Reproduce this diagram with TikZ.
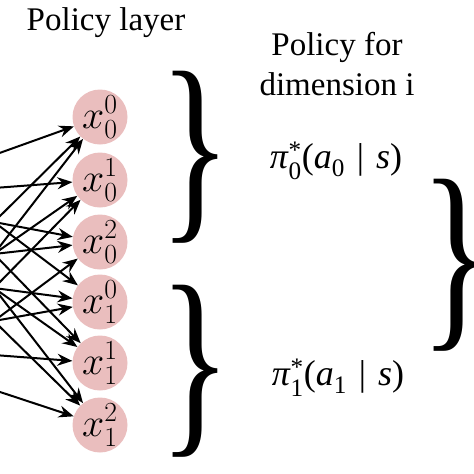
\documentclass[tikz,border=0pt]{standalone}
\usepackage{amsmath}
\usepackage{graphicx}
\usepackage{fontspec}
\setmainfont{Liberation Serif}
\usetikzlibrary{arrows.meta}
\definecolor{unitpink}{RGB}{234,190,190}
\newcommand{\unitlbl}[2]{\scalebox{1.6}{$x_{#1}^{#2}$}}
\begin{document}
\begin{tikzpicture}[x=1pt, y=-1pt,
        unit/.style={circle, fill=unitpink, minimum size=54pt, inner sep=0pt, font=\fontsize{25}{30}\selectfont},
        conn/.style={-{Stealth[length=15pt, width=12pt, inset=5pt]}, line width=2pt},
        bigbrace/.style={inner sep=0pt, xscale=0.72, font=\fontsize{208}{208}\selectfont},
        label/.style={anchor=base, font=\fontsize{33}{40}\selectfont},
        policy/.style={anchor=base, font=\fontsize{36}{42}\selectfont}]
        \useasboundingbox (0,0) rectangle (474,474);
        \clip (0,0) rectangle (474,474);

        \node[unit] (x00) at (100, 117) {\unitlbl{0}{0}};
        \node[unit] (x01) at (100, 180) {\unitlbl{0}{1}};
        \node[unit] (x02) at (100, 242) {\unitlbl{0}{2}};
        \node[unit] (x10) at (100, 302) {\unitlbl{1}{0}};
        \node[unit] (x11) at (100, 363) {\unitlbl{1}{1}};
        \node[unit] (x12) at (100, 425) {\unitlbl{1}{2}};

        \coordinate (h1) at (-6, 155);
        \coordinate (h2) at (-6, 188);
        \coordinate (h3) at (-6, 222);
        \coordinate (h4) at (-6, 254);
        \coordinate (h5) at (-6, 288);
        \coordinate (h6) at (-6, 321);
        \coordinate (h7) at (-6, 355);
        \coordinate (h8) at (-6, 390);

        \draw[conn] (h1) -- (x00);
        \draw[conn] (h3) -- (x00);
        \draw[conn] (h4) -- (x00);
        \draw[conn] (h2) -- (x01);
        \draw[conn] (h4) -- (x01);
        \draw[conn] (h5) -- (x01);
        \draw[conn] (h3) -- (x02);
        \draw[conn] (h4) -- (x02);
        \draw[conn] (h6) -- (x02);
        \draw[conn] (h3) -- (x10);
        \draw[conn] (h5) -- (x10);
        \draw[conn] (h6) -- (x10);
        \draw[conn] (h4) -- (x11);
        \draw[conn] (h5) -- (x11);
        \draw[conn] (h7) -- (x11);
        \draw[conn] (h5) -- (x12);
        \draw[conn] (h6) -- (x12);
        \draw[conn] (h8) -- (x12);

        \node[label] (layer) at (106, 30) {Policy layer};
        \node[label] (head1) at (337, 55) {Policy for};
        \node[label] (head2) at (337, 95) {dimension i};
        \node[policy] (pi0) at (336, 168) {\textit{π}$^{\text{*}}_{\text{0}}$(\textit{a}$_{\text{0}}$\,\,|\,\,\textit{s})};
        \node[policy] (pi1) at (338, 385) {\textit{π}$^{\text{*}}_{\text{1}}$(\textit{a}$_{\text{1}}$\,\,|\,\,\textit{s})};

        \node[bigbrace] (brace0) at (195, 157) {\}};
        \node[bigbrace] (brace1) at (195, 371) {\}};
        \node[bigbrace] (braceall) at (456, 265) {\}};
    \end{tikzpicture}
\end{document}
